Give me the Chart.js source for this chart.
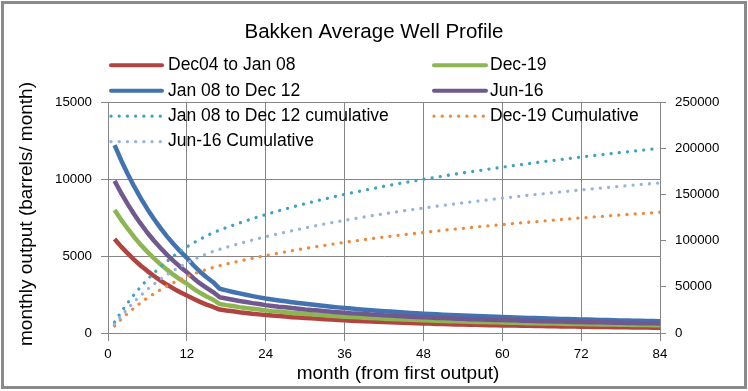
<!DOCTYPE html>
<html>
<head>
<meta charset="utf-8">
<script src="https://cdn.jsdelivr.net/npm/chart.js@4.4.1/dist/chart.umd.min.js"></script>
<style>
html,body{margin:0;padding:0;background:#fff;}
#wrap{width:748px;height:391px;position:relative;}
</style>
</head>
<body>
<div id="wrap"><canvas id="c" width="748" height="391"></canvas></div>
<script>
// ---- data ----
const months = [1,2,3,4,5,6,7,8,9,10,11,12,13,14,15,16,17,18,19,20,21,22,23,24,25,26,27,28,29,30,31,32,33,34,35,36,37,38,39,40,41,42,43,44,45,46,47,48,49,50,51,52,53,54,55,56,57,58,59,60,61,62,63,64,65,66,67,68,69,70,71,72,73,74,75,76,77,78,79,80,81,82,83,84];
const xTickValues = [0,12,24,36,48,60,72,84];
const leftTickValues = [0,5000,10000,15000];
const rightTickValues = [0,50000,100000,150000,200000,250000];
const seriesNames = ["Dec04 to Jan 08","Dec-19","Jan 08 to Dec 12","Jun-16","Jan 08 to Dec 12 cumulative","Dec-19 Cumulative","Jun-16 Cumulative"];

const dec04ToJan08 = [6100,5610,5170,4750,4370,4020,3700,3400,3130,2880,2650,2440,2220,2020,1840,1690,
  1520,1460,1410,1350,1300,1250,1210,1170,
  1130,1100,1070,1030,1000,970,950,920,890,870,850,820,
  800,780,760,740,730,710,690,680,660,650,630,620,
  610,590,580,570,560,550,540,530,520,510,505,495,
  487,479,472,464,456,449,442,435,429,421,415,409,
  403,397,391,385,380,374,369,363,358,353,349,344];

const dec19 = [7990,7350,6770,6220,5720,5270,4850,4460,4100,3770,3470,3200,2880,2610,2370,2160,
  1880,1810,1750,1680,1620,1570,1520,1470,
  1420,1390,1350,1310,1280,1240,1210,1180,1150,1120,1090,1060,
  1040,1020,990,970,950,930,910,890,870,860,840,820,
  810,790,780,770,760,740,730,720,710,700,690,680,
  670,660,650,640,630,620,615,610,600,590,585,580,
  570,565,560,550,545,540,530,525,520,515,510,500];

const jan08ToDec12 = [12200,11220,10330,9500,8740,8040,7400,6810,6260,5760,5300,4880,4400,3980,3620,3300,
  2870,2765,2665,2570,2480,2395,2315,2240,
  2175,2115,2057,2001,1947,1895,1845,1797,1751,1707,1664,1623,
  1586,1550,1516,1483,1451,1420,1390,1361,1333,1306,1280,1255,
  1233,1212,1192,1172,1153,1135,1117,1100,1083,1067,1051,1036,
  1021,1007,993,979,966,953,940,928,916,904,893,882,
  871,860,849,839,829,819,809,800,791,782,773,764];

const jun16 = [9880,9090,8370,7700,7080,6510,5990,5520,5070,4670,4290,3950,3560,3220,2930,2660,
  2320,2240,2160,2080,2010,1940,1880,1810,
  1760,1710,1670,1620,1580,1530,1490,1460,1420,1380,1350,1310,
  1280,1260,1230,1200,1180,1150,1130,1100,1080,1060,1040,1020,
  1000,980,970,950,930,920,900,890,880,860,850,840,
  830,820,800,790,780,770,760,750,740,730,720,710,
  705,700,690,680,670,660,655,650,640,630,625,620];

const jan08ToDec12Cum = [11790,22620,32600,41780,50220,57990,65140,71720,77760,83330,88450,93160,97500,101490,105160,108540,
  111310,113980,116560,119040,121440,123750,125990,128150,
  130250,132290,134280,136210,138100,139920,141710,143440,145130,146780,148390,149960,
  151490,152990,154450,155890,157290,158660,160000,161320,162600,163870,165100,166310,
  167500,168680,169830,170960,172070,173170,174250,175310,176360,177390,178400,179410,
  180390,181360,182320,183270,184200,185120,186030,186930,187810,188690,189550,190400,
  191240,192070,192890,193700,194500,195290,196080,196850,197610,198370,199120,199850];

const dec19Cum = [7710,14790,21320,27320,32840,37930,42600,46900,50860,54500,57850,60930,63770,66370,68770,70990,
  72800,74540,76230,77850,79420,80930,82400,83810,
  85180,86520,87820,89080,90320,91510,92680,93810,94920,95990,97050,98070,
  99070,100060,101010,101950,102870,103760,104640,105500,106340,107170,107980,108770,
  109550,110320,111070,111810,112530,113250,113960,114650,115340,116010,116670,117330,
  117980,118610,119240,119860,120470,121070,121660,122250,122830,123400,123970,124520,
  125070,125610,126150,126680,127200,127720,128240,128740,129240,129730,130220,130700];

const jun16Cum = [9590,18390,26500,33970,40830,47150,52960,58310,63220,67750,71910,75740,79270,82510,85500,88240,
  90500,92670,94760,96780,98730,100610,102430,104190,
  105890,107550,109170,110740,112280,113760,115210,116620,117990,119330,120640,121920,
  123160,124380,125570,126740,127880,128990,130080,131150,132190,133230,134230,135210,
  136180,137140,138070,138990,139890,140790,141670,142530,143380,144220,145040,145860,
  146660,147450,148230,149000,149750,150500,151240,151970,152690,153410,154100,154800,
  155480,156150,156820,157480,158130,158770,159410,160040,160660,161280,161890,162480];

// ---- styles ----
const FONT = "'Liberation Sans', Arial, sans-serif";
const GRID = '#868686';
const colors = ['#B04440','#8DB552','#4372B0','#71588F','#3EA3C0','#F0883A','#97B3DC'];
const seriesValues = [dec04ToJan08, dec19, jan08ToDec12, jun16, jan08ToDec12Cum, dec19Cum, jun16Cum];
const axisIds = ['y','y','y','y','y1','y1','y1'];
const dotted = [false,false,false,false,true,true,true];

const datasets = seriesValues.map((vals, i) => ({
  label: seriesNames[i],
  data: months.map((m, k) => ({x: m, y: vals[k]})),
  yAxisID: axisIds[i],
  borderColor: colors[i],
  backgroundColor: colors[i],
  borderWidth: dotted[i] ? 3.3 : 4.5,
  borderDash: dotted[i] ? [0.01, 8.2] : [],
  borderCapStyle: dotted[i] ? 'round' : 'butt',
  borderJoinStyle: 'round',
  pointRadius: 0,
  fill: false,
  tension: 0,
  order: 6 - i
}));

Chart.defaults.font.family = FONT;

const framePlugin = {
  id: 'frame',
  beforeDraw(chart) {
    const c = chart.ctx;
    c.save();
    c.fillStyle = '#fff';
    c.fillRect(0, 0, chart.width, chart.height);
    c.strokeStyle = '#8a8a8a';
    c.lineWidth = 3;
    c.strokeRect(2.5, 2.5, 743, 385);
    c.restore();
  }
};

const legendPlugin = {
  id: 'excelLegend',
  afterDatasetsDraw(chart) {
    const c = chart.ctx;
    c.save();
    const rowY0 = 65.3, rowStep = 25.45;
    const lineX = [[111, 162], [434, 486]];
    const textX = [168, 490];
    chart.data.datasets.forEach((ds, i) => {
      const row = Math.floor(i / 2), col = i % 2;
      const y = rowY0 + row * rowStep;
      c.beginPath();
      c.strokeStyle = ds.borderColor;
      if (dotted[i]) {
        c.lineWidth = 3.3; c.lineCap = 'round'; c.setLineDash([0.01, 8.2]);
      } else {
        c.lineWidth = 4; c.lineCap = 'round'; c.setLineDash([]);
      }
      c.moveTo(lineX[col][0], y);
      c.lineTo(lineX[col][1], y);
      c.stroke();
      c.setLineDash([]);
      c.fillStyle = '#000';
      c.font = '17.5px ' + FONT;
      c.textAlign = 'left';
      c.textBaseline = 'middle';
      c.fillText(ds.label, textX[col], y);
    });
    c.restore();
  }
};

const axisTitlePlugin = {
  id: 'axisTitles',
  afterDraw(chart) {
    const c = chart.ctx;
    c.save();
    c.fillStyle = '#000';
    c.font = '19px ' + FONT;
    c.textAlign = 'center';
    c.textBaseline = 'middle';
    c.fillText('month (from first output)', 398, 374);
    c.translate(27, 214);
    c.rotate(-Math.PI / 2);
    c.fillText('monthly output (barrels/ month)', 0, 0);
    c.restore();
  }
};

new Chart(document.getElementById('c'), {
  type: 'line',
  data: { datasets },
  options: {
    responsive: false,
    devicePixelRatio: 1,
    animation: false,
    layout: { padding: 0 },
    plugins: {
      legend: { display: false },
      tooltip: { enabled: false },
      title: {
        display: true,
        text: 'Bakken Average Well Profile',
        color: '#000',
        font: { size: 20.5, weight: 'normal', family: FONT },
        padding: { top: 20, bottom: 57.4 }
      }
    },
    scales: {
      x: {
        type: 'linear', position: 'bottom', min: 0, max: 84,
        afterBuildTicks: s => { s.ticks = xTickValues.map(v => ({ value: v })); },
        afterFit: s => { s.height = 58; },
        grid: { color: GRID, lineWidth: 1, tickLength: 8 },
        border: { color: GRID, width: 1 },
        ticks: { color: '#000', font: { size: 13.3 }, padding: 5, maxRotation: 0, autoSkip: false, callback: v => String(v) }
      },
      y: {
        type: 'linear', position: 'left', min: 0, max: 15000,
        afterBuildTicks: s => { s.ticks = leftTickValues.map(v => ({ value: v })); },
        afterFit: s => { s.width = 108; },
        grid: { color: GRID, lineWidth: 1, tickLength: 7 },
        border: { color: GRID, width: 1 },
        ticks: { color: '#000', font: { size: 13.3 }, padding: 9, autoSkip: false, callback: v => String(v) }
      },
      y1: {
        type: 'linear', position: 'right', min: 0, max: 250000,
        afterBuildTicks: s => { s.ticks = rightTickValues.map(v => ({ value: v })); },
        afterFit: s => { s.width = 88; },
        grid: { drawOnChartArea: false, color: GRID, lineWidth: 1, tickLength: 6 },
        border: { color: GRID, width: 1 },
        ticks: { color: '#000', font: { size: 13.3 }, padding: 9, autoSkip: false, callback: v => String(v) }
      }
    }
  },
  plugins: [framePlugin, legendPlugin, axisTitlePlugin]
});
</script>
</body>
</html>
